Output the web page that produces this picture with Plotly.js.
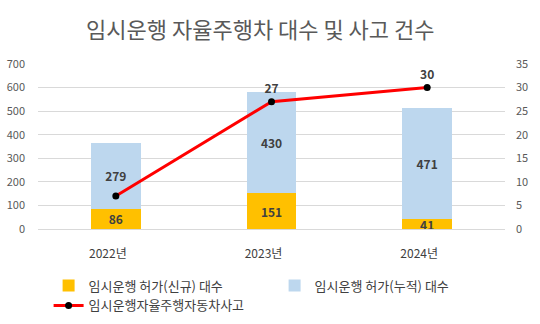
<!DOCTYPE html>
<html><head><meta charset="utf-8">
<script src="https://cdn.plot.ly/plotly-3.0.1.min.js"></script>
<style>html,body{margin:0;padding:0;background:#fff}#c{width:540px;height:324px}</style>
</head><body><div id="c"></div>
<script>
const years = ['2022년', '2023년', '2024년'];
const newPermits = [86, 151, 41];
const cumPermits = [279, 430, 471];
const accidents = [7, 27, 30];
const accidentLabels = ['', '27', '30'];
const leftTicks = [0, 100, 200, 300, 400, 500, 600, 700];
const rightTicks = [0, 5, 10, 15, 20, 25, 30, 35];

const FONT = '"Noto Sans CJK KR", "Noto Sans", sans-serif';
const traces = [
  {type:'bar', x: years, y: newPermits, name:'임시운행 허가(신규) 대수',
   marker:{color:'#FFC000'}, text: newPermits.map(String), textposition:'inside', textangle:0,
   insidetextanchor:'middle', constraintext:'none',
   textfont:{family:FONT, size:12, color:'#404040', weight:'bold'}, hoverinfo:'skip'},
  {type:'bar', x: years, y: cumPermits, name:'임시운행 허가(누적) 대수',
   marker:{color:'#BDD7EE'}, text: cumPermits.map(String), textposition:'inside', textangle:0,
   insidetextanchor:'middle', constraintext:'none',
   textfont:{family:FONT, size:12, color:'#404040', weight:'bold'}, hoverinfo:'skip'},
  {type:'scatter', mode:'lines+markers+text', x: years, y: accidents, yaxis:'y2',
   name:'임시운행자율주행자동차사고', line:{color:'#FF0000', width:3},
   marker:{color:'#000000', size:7}, text: accidentLabels, textposition:'top center',
   textfont:{family:FONT, size:12, color:'#404040', weight:'bold'}, cliponaxis:false}
];
const layout = {
  width:540, height:324, barmode:'stack', bargap:0.68,
  margin:{l:38, r:35, t:64, b:95},
  paper_bgcolor:'#fff', plot_bgcolor:'#fff',
  font:{family:FONT, color:'#595959', size:11},
  title:{text:'임시운행 자율주행차 대수 및 사고 건수', x:0.482, xanchor:'center', y:0.905, yanchor:'middle',
    font:{family:FONT, size:22, color:'#595959'}},
  xaxis:{showline:false, ticks:'', tickfont:{size:12, color:'#404040'}, ticklabelshift:-8, ticklabelstandoff:16},
  yaxis:{range:[0,700], tickvals:leftTicks, gridcolor:'#D9D9D9', zeroline:true, zerolinecolor:'#D9D9D9',
    showline:false, ticks:'', tickfont:{size:11, color:'#595959'}, ticklabelstandoff:12},
  yaxis2:{range:[0,35], tickvals:rightTicks, overlaying:'y', side:'right', showgrid:false, zeroline:false,
    showline:false, ticks:'', tickfont:{size:11, color:'#595959'}, ticklabelstandoff:10},
  showlegend:true,
  legend:{orientation:'h', x:0.09, xanchor:'left', xref:'container', y:0.165, yanchor:'top', yref:'container',
    font:{family:FONT, size:13, color:'#404040'}, entrywidth:181, entrywidthmode:'pixels',
    traceorder:'normal', tracegroupgap:0, itemwidth:30}
};
Plotly.newPlot('c', traces, layout, {displayModeBar:false, staticPlot:true});
</script></body></html>
